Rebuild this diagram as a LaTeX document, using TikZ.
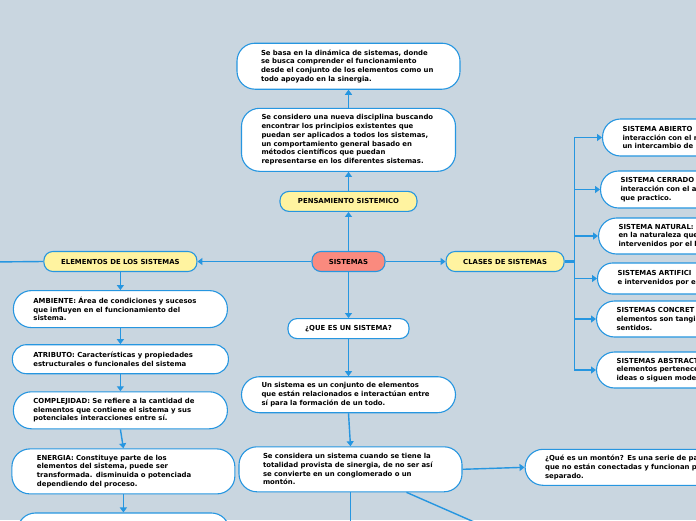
\documentclass[tikz,border=0pt]{standalone}
\usepackage{fontspec}
\setmainfont{DejaVu Sans}
\usetikzlibrary{arrows.meta, positioning}
\definecolor{fondo}{RGB}{201,214,224}
\definecolor{azul}{RGB}{38,150,224}
\definecolor{amarillo}{RGB}{255,243,160}
\definecolor{salmon}{RGB}{250,138,126}

\begin{document}
\begin{tikzpicture}[
        x=1pt, y=-1pt,
        nota/.style={
            rectangle,
            rounded corners=18pt,
            draw=azul,
            line width=1.1pt,
            fill=white,
            align=left,
            font=\fontsize{6.9}{8.7}\selectfont\bfseries,
            inner xsep=20pt,
            inner ysep=2pt
        },
        clave/.style={
            rectangle,
            rounded corners=9pt,
            draw=azul,
            line width=1.1pt,
            minimum height=20pt,
            align=center,
            font=\fontsize{6.9}{8.7}\selectfont\bfseries,
            inner xsep=4pt,
            inner ysep=0pt
        },
        flecha/.style={-{Triangle[length=5pt,width=7pt]}, line width=1.4pt, draw=azul},
        linea/.style={line width=1.4pt, draw=azul}
    ]
        \useasboundingbox (0,0) rectangle (696,520);
        \fill[fondo] (0,0) rectangle (696,520);
        \clip (0,0) rectangle (696,520);

        % columna central
        \node[clave, fill=salmon, minimum width=73pt] (sistemas) at (348.5,261.5) {SISTEMAS};

        \node[clave, fill=amarillo, minimum width=137pt, above=39pt of sistemas] (pensamiento) {PENSAMIENTO SISTEMICO};

        \node[nota, text width=174pt, minimum height=63pt, above=19pt of pensamiento] (disciplina) {
            Se considero una nueva disciplina buscando\\
            encontrar los principios existentes que\\
            puedan ser aplicados a todos los sistemas,\\
            un comportamiento general basado en\\
            métodos científicos que puedan\\
            representarse en los diferentes sistemas.
        };

        \node[nota, inner xsep=24pt, text width=175pt, minimum height=46pt, above=18pt of disciplina] (dinamica) {
            Se basa en la dinámica de sistemas, donde\\
            se busca comprender el funcionamiento\\
            desde el conjunto de los elementos como un\\
            todo apoyado en la sinergia.
        };

        \node[clave, fill=white, minimum width=121pt, below=46pt of sistemas] (quees) {¿QUE ES UN SISTEMA?};

        \node[nota, text width=174pt, minimum height=36pt, below=37pt of quees] (definicion) {
            Un sistema es un conjunto de elementos\\
            que están relacionados e interactúan entre\\
            sí para la formación de un todo.
        };

        \node[nota, inner xsep=24pt, text width=175pt, minimum height=45pt, below=33pt of definicion, xshift=2pt] (considera) {
            Se considera un sistema cuando se tiene la\\
            totalidad provista de sinergia, de no ser así\\
            se convierte en un conglomerado o un\\
            montón.
        };

        \node[nota, text width=230pt, minimum height=36pt, right=62pt of considera, yshift=2pt] (monton) {
            ¿Qué es un montón? Es una serie de pa\\
            que no están conectadas y funcionan p\\
            separado.
        };

        \coordinate (fueraabajo) at ([yshift=-40pt]considera.south);
        \coordinate (fueradiag) at (497,532);

        % elementos
        \node[clave, fill=amarillo, minimum width=153pt, left=114pt of sistemas] (elementos) {ELEMENTOS DE LOS SISTEMAS};
        \coordinate (fueraizq) at (-10,262);

        \node[nota, text width=174pt, minimum height=37pt, below=18pt of elementos] (ambiente) {
            AMBIENTE: Área de condiciones y sucesos\\
            que influyen en el funcionamiento del\\
            sistema.
        };

        \node[nota, inner xsep=21pt, text width=174pt, minimum height=29pt, rounded corners=14pt, below=16pt of ambiente] (atributo) {
            ATRIBUTO: Características y propiedades\\
            estructurales o funcionales del sistema
        };

        \node[nota, text width=174pt, minimum height=37pt, below=17pt of atributo] (complejidad) {
            COMPLEJIDAD: Se refiere a la cantidad de\\
            elementos que contiene el sistema y sus\\
            potenciales interacciones entre sí.
        };

        \node[nota, inner xsep=25pt, text width=173pt, minimum height=45pt, below=19pt of complejidad, xshift=3pt] (energia) {
            ENERGIA: Constituye parte de los\\
            elementos del sistema, puede ser\\
            transformada. disminuida o potenciada\\
            dependiendo del proceso.
        };

        \node[nota, minimum width=212pt, minimum height=40pt, below=18pt of energia] (siguiente) {};

        % clases
        \node[clave, fill=amarillo, minimum width=118pt, right=60pt of sistemas] (clases) {CLASES DE SISTEMAS};

        \node[nota, anchor=west, text width=160pt, minimum height=37pt] (abierto) at (602,137.5) {
            SISTEMA ABIERTO\\
            interacción con el m\\
            un intercambio de
        };
        \node[nota, anchor=west, text width=160pt, minimum height=37pt] (cerrado) at (600,189.5) {
            SISTEMA CERRADO\\
            interacción con el a\\
            que practico.
        };
        \node[nota, anchor=west, text width=160pt, minimum height=36pt] (natural) at (598,236) {
            SISTEMA NATURAL:\\
            en la naturaleza que\\
            intervenidos por el h
        };
        \node[nota, anchor=west, text width=160pt, minimum height=31pt, rounded corners=15pt] (artificial) at (597,278.5) {
            SISTEMAS ARTIFICI\\
            e intervenidos por e
        };
        \node[nota, anchor=west, text width=160pt, minimum height=36pt] (concreto) at (596,319) {
            SISTEMAS CONCRET\\
            elementos son tangi\\
            sentidos.
        };
        \node[nota, anchor=west, text width=160pt, minimum height=36pt] (abstracto) at (596,370) {
            SISTEMAS ABSTRACT\\
            elementos pertenece\\
            ideas o siguen mode
        };

        % conectores
        \draw[flecha] (sistemas.north) -- (pensamiento.south);
        \draw[flecha] (pensamiento.north) -- (disciplina.south);
        \draw[flecha] (disciplina.north) -- (dinamica.south);
        \draw[flecha] (sistemas.west) -- (elementos.east);
        \draw[flecha] (sistemas.east) -- (clases.west);
        \draw[flecha] (sistemas.south) -- (quees.north);
        \draw[flecha] (quees.south) -- (definicion.north);
        \draw[flecha] (definicion.south) -- (considera.north);
        \draw[flecha] (considera.east) -- (monton.west);
        \draw[linea] (considera.south) -- (fueraabajo);
        \draw[linea] ([xshift=56pt]considera.south) -- (fueradiag);

        \draw[linea] (fueraizq) -- (elementos.west);
        \draw[flecha] (elementos.south) -- (ambiente.north);
        \draw[flecha] (ambiente.south) -- (atributo.north);
        \draw[flecha] (atributo.south) -- (complejidad.north);
        \draw[flecha] (complejidad.south) -- (energia.north);
        \draw[flecha] (energia.south) -- (siguiente.north);

        \draw[line width=2.4pt, draw=azul] (clases.east) -- ++(10,0);
        \draw[flecha] (clases.east) -- ++(10,0) |- (abierto.west);
        \draw[flecha] (clases.east) -- ++(10,0) |- (cerrado.west);
        \draw[flecha] (clases.east) -- ++(10,0) |- (natural.west);
        \draw[flecha] (clases.east) -- ++(10,0) |- (artificial.west);
        \draw[flecha] (clases.east) -- ++(10,0) |- (concreto.west);
        \draw[flecha] (clases.east) -- ++(10,0) |- (abstracto.west);
    \end{tikzpicture}
\end{document}
